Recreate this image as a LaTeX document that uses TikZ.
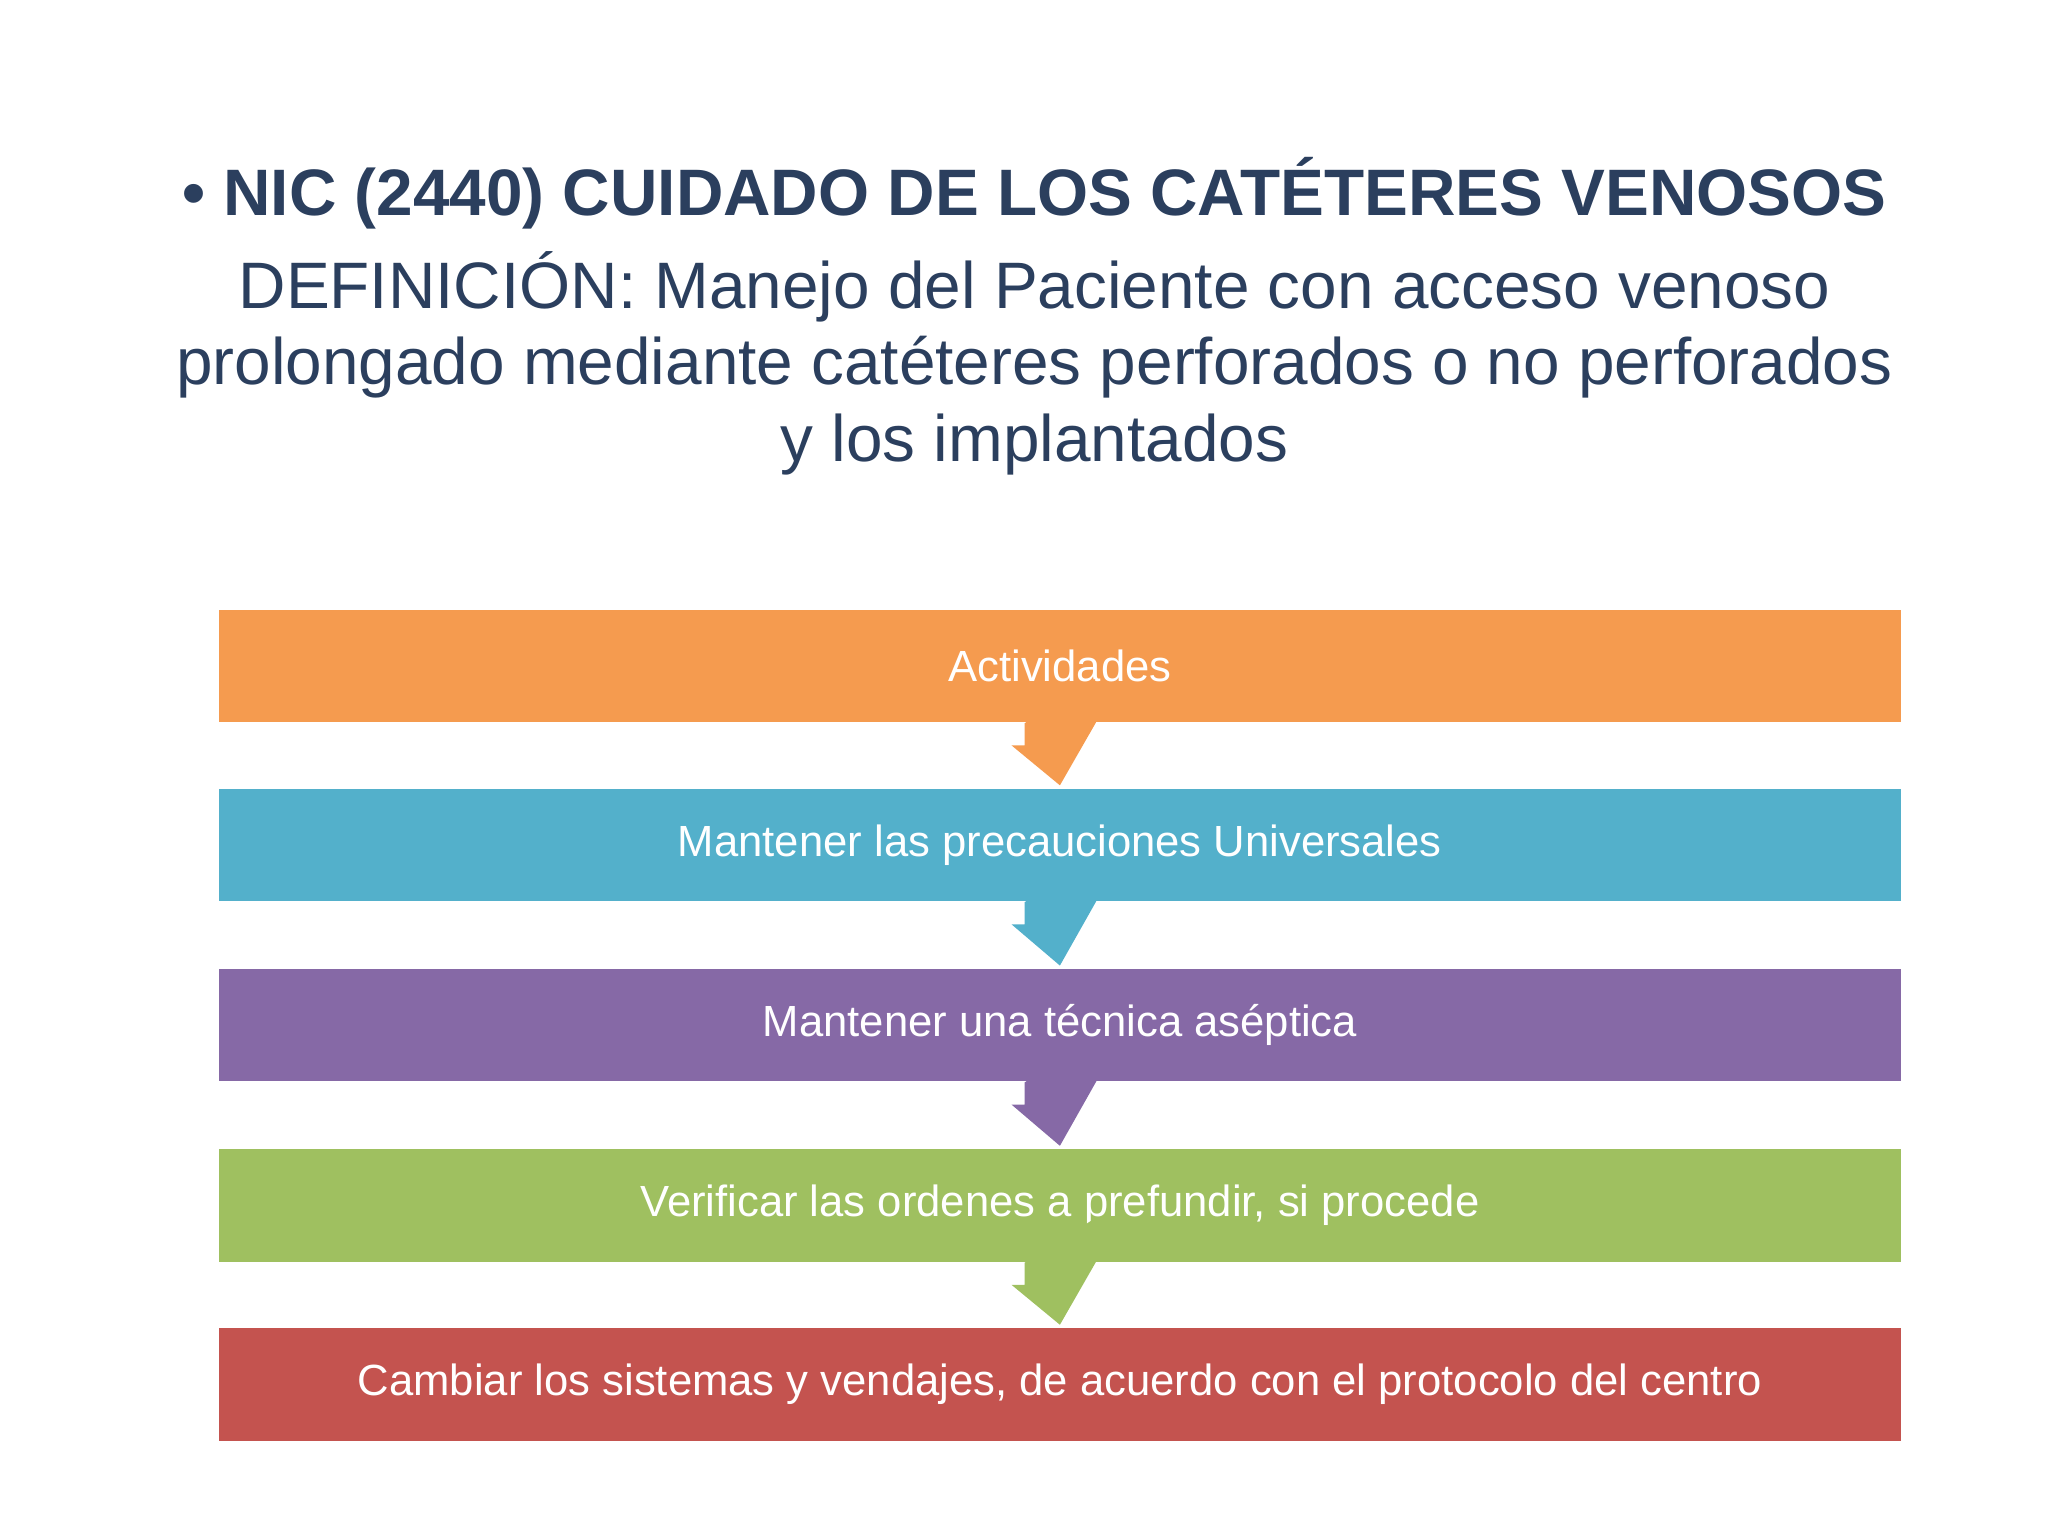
\documentclass[tikz,border=0pt]{standalone}
\usepackage{fontspec}
\setmainfont{Liberation Sans}
\definecolor{navy}{HTML}{2B3F5E}
\definecolor{corange}{HTML}{F59B4F}
\definecolor{cblue}{HTML}{53B0CB}
\definecolor{cpurple}{HTML}{8669A6}
\definecolor{cgreen}{HTML}{9FC060}
\definecolor{cred}{HTML}{C4534F}
\begin{document}
\begin{tikzpicture}[x=0.01cm,y=-0.01cm,
  bar/.style={minimum width=12.87cm,minimum height=0.86cm,inner sep=0pt,text=white,font=\fontsize{9.5}{11}\selectfont},
  ttl/.style={text=navy,align=center}]
\useasboundingbox (0,0) rectangle (1568,1176);
\node[ttl,font=\fontsize{14.3}{17}\selectfont\bfseries] (t) at (792,148) {• NIC (2440) CUIDADO DE LOS CATÉTERES VENOSOS};
\node[ttl,font=\fontsize{14.3}{16.6}\selectfont] (d) at (792,278) {DEFINICIÓN: Manejo del Paciente con acceso venoso\\prolongado mediante catéteres perforados o no perforados\\y los implantados};
\foreach \n/\y/\c/\txt in {1/510/corange/Actividades,
  2/647/cblue/Mantener las precauciones Universales,
  3/785/cpurple/Mantener una técnica aséptica,
  4/923/cgreen/{Verificar las ordenes a prefundir, si procede},
  5/1060/cred/{Cambiar los sistemas y vendajes, de acuerdo con el protocolo del centro}}
  \node[bar,fill=\c] (b\n) at (811.5,\y) {\txt};
\foreach \a/\b/\c in {1/2/corange,2/3/cblue,3/4/cpurple,4/5/cgreen}
  \fill[\c] ([xshift=-0.27cm]b\a.south) -- ++(0,17) -- ++(-10,0) -- ([yshift=0.02cm]b\b.north) -- ([xshift=0.37cm,yshift=0.17cm]b\a.south) -- ++(-10,0) -- ++(0,-17) -- cycle;
\end{tikzpicture}
\end{document}
